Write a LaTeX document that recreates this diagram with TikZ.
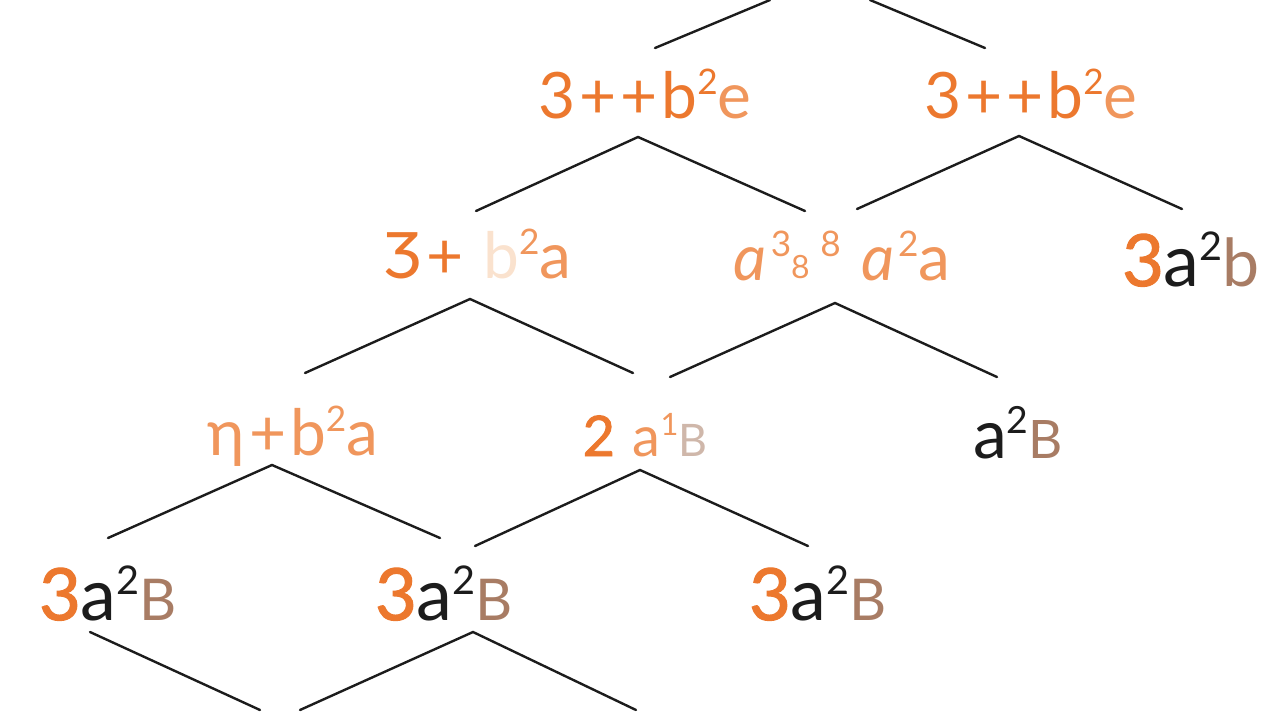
\documentclass[tikz,border=0pt]{standalone}
\usepackage{fontspec}
\setmainfont{Lato}[LetterSpace=6]
\newfontfamily\medfont{Lato}[LetterSpace=6, FakeBold=1.6]
\usepackage{graphicx}
\usepackage{xcolor}
\usepackage{tikz}
\definecolor{orng}{RGB}{236,120,46}
\definecolor{lorng}{RGB}{240,150,92}
\definecolor{faint}{RGB}{250,226,206}
\definecolor{brwn}{RGB}{168,124,100}
\definecolor{ink}{RGB}{28,28,28}
\newcommand{\up}[1]{\raisebox{0.36em}{\scalebox{0.55}{#1}}}
\newcommand{\dn}[1]{\raisebox{0.02em}{\scalebox{0.5}{#1}}}
\newcommand{\thrab}[1]{\textcolor{orng}{\medfont 3}\textcolor{ink}{a\up{2}}\textcolor{brwn}{\scalebox{0.8}{#1}}}
\tikzset{
  lbl/.style={anchor=base, inner sep=0pt, font=\fontsize{64}{74}\selectfont},
  big/.style={font=\fontsize{72}{82}\selectfont},
  arm/.style={line width=2.4pt, ink, line cap=round}
}

\begin{document}
\begin{tikzpicture}[x=1pt, y=-1pt]
			\useasboundingbox (0,0) rectangle (1280,720);
			% coordinates
			\coordinate (t1) at (770,0);   \coordinate (t1-l) at (655,48);
			\coordinate (t2) at (870,0);   \coordinate (t2-r) at (985,48);
			\coordinate (vA) at (638,137); \coordinate (vA-l) at (476,211); \coordinate (vA-r) at (805,211);
			\coordinate (vB) at (1019,136);\coordinate (vB-l) at (857,209); \coordinate (vB-r) at (1182,209);
			\coordinate (vC) at (470,299); \coordinate (vC-l) at (305,373); \coordinate (vC-r) at (633,373);
			\coordinate (vD) at (835,303); \coordinate (vD-l) at (670,377); \coordinate (vD-r) at (997,377);
			\coordinate (vE) at (272,465); \coordinate (vE-l) at (108,538); \coordinate (vE-r) at (440,538);
			\coordinate (vF) at (640,470); \coordinate (vF-l) at (475,546); \coordinate (vF-r) at (808,546);
			\coordinate (vG) at (473,632); \coordinate (vG-l) at (300,710); \coordinate (vG-r) at (636,710);
			\coordinate (b1) at (90,632);  \coordinate (b1-r) at (260,710);
			% arms
			\draw[arm] (t1-l) -- (t1);
			\draw[arm] (t2) -- (t2-r);
			\foreach \v in {vA,vB,vC,vD,vE,vF,vG}
				\draw[arm] (\v-l) -- (\v) -- (\v-r);
			\draw[arm] (b1) -- (b1-r);
			% first row
			\node[lbl, text=orng] (lA) at (645,118) {3++b\up{2}\textcolor{lorng}{e}};
			\node[lbl, text=orng] (lB) at (1031,118) {3++b\up{2}\textcolor{lorng}{e}};
			% second row
			\node[lbl, text=orng] (lC) at (478,278) {Ʒ+ \textcolor{faint}{b}\textcolor{lorng}{\up{2}a}};
			\node[lbl, text=lorng] (lD) at (842,280) {\textit{ɑ}\up{3}\dn{8}\,\up{8}\ \textit{ɑ}\up{2}a};
			\node[lbl, big] (lE) at (1191,286) {\thrab{\scalebox{1.15}{b}}};
			% third row
			\node[lbl, text=lorng] (lF) at (293,455) {η+b\up{2}a};
			\node[lbl, text=orng, font=\fontsize{56}{64}\selectfont] (lG) at (645,456) {{\medfont 2}\ \textcolor{lorng}{a\up{1}}\textcolor{brwn!55}{\scalebox{0.8}{B}}};
			\node[lbl, font=\fontsize{68}{78}\selectfont] (lH) at (1018,458) {\textcolor{ink}{a\up{2}}\textcolor{brwn}{\scalebox{0.78}{B}}};
			% fourth row
			\node[lbl, big] (lI) at (108,620) {\thrab{B}};
			\node[lbl, big] (lJ) at (444,620) {\thrab{B}};
			\node[lbl, big] (lK) at (818,620) {\thrab{B}};
		\end{tikzpicture}
\end{document}
